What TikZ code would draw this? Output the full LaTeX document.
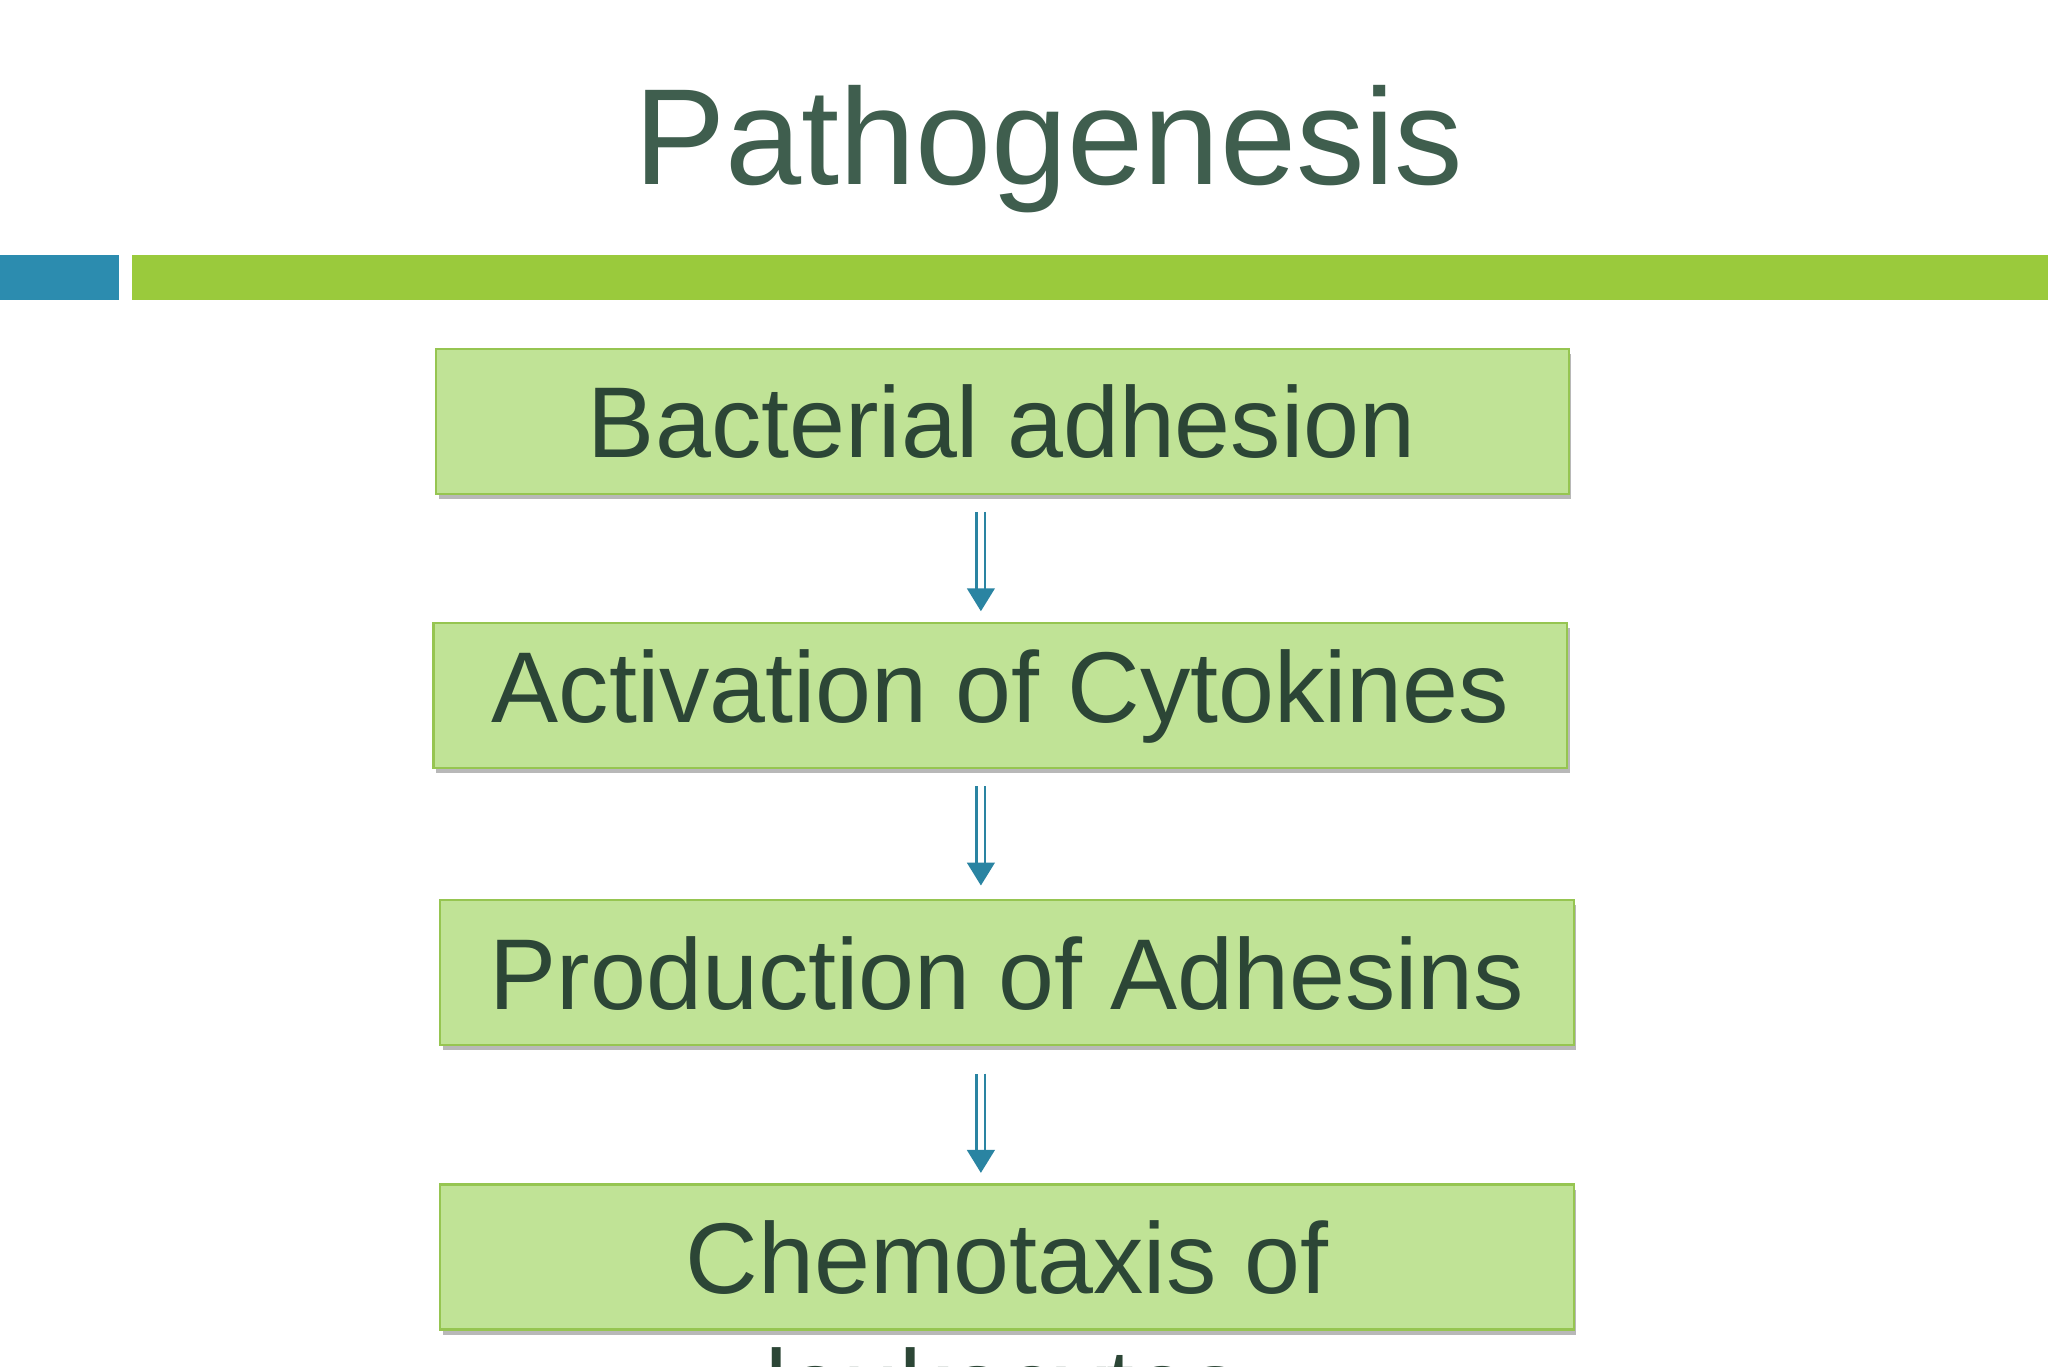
\documentclass[tikz,border=0pt]{standalone}
\usepackage{fontspec}
\setmainfont{Liberation Sans}
\usetikzlibrary{arrows.meta}
\definecolor{titlec}{HTML}{3F5E4E}
\definecolor{txtc}{HTML}{2C4636}
\definecolor{boxf}{HTML}{C0E396}
\definecolor{boxd}{HTML}{96C551}
\definecolor{barg}{HTML}{9ACA3C}
\definecolor{bart}{HTML}{2C8CAF}
\definecolor{arr}{HTML}{2A84A2}
\begin{document}
\begin{tikzpicture}[x=0.01cm,y=-0.01cm,
  stepbox/.style={draw=boxd,fill=boxf,line width=0.5pt},
  shadowbox/.style={fill=black!28},
  boxtxt/.style={text=txtc,font=\fontsize{21.9}{26}\selectfont},
  flow/.style={draw=arr,double=white,line width=0.6pt,double distance=1.2pt,-{Triangle[length=5pt,width=6pt,fill=arr]}}]
\useasboundingbox (0,0) rectangle (1568,1046);
\clip (0,0) rectangle (1568,1046);
\fill[white] (0,0) rectangle (1568,1046);
\node[text=titlec,font=\fontsize{29.8}{34}\selectfont] (title) at (803,114) {Pathogenesis};
\fill[bart] (0,195) rectangle (91,230);
\fill[barg] (101,195) rectangle (1568,230);
\fill[shadowbox] (336,271) rectangle (1203,382);
\fill[shadowbox] (334,481) rectangle (1202,592);
\fill[shadowbox] (339,693) rectangle (1207,804);
\fill[shadowbox] (339,911) rectangle (1207,1022);
\draw[stepbox] (334,267) rectangle (1201,378);
\draw[stepbox] (332,477) rectangle (1200,588);
\draw[stepbox] (337,689) rectangle (1205,800);
\draw[stepbox] (337,907) rectangle (1205,1018);
\node[boxtxt] (t1) at (767,323) {Bacterial adhesion};
\node[boxtxt] (t2) at (766,533) {Activation of Cytokines};
\node[boxtxt] (t3) at (771,745) {Production of Adhesins};
\node[boxtxt] (t4) at (771,963) {Chemotaxis of};
\node[boxtxt] (t5) at (768,1068) {leukocytes};
\coordinate (a1s) at (751,392); \coordinate (a1e) at (751,468);
\coordinate (a2s) at (751,602); \coordinate (a2e) at (751,678);
\coordinate (a3s) at (751,822); \coordinate (a3e) at (751,898);
\draw[flow] (a1s) -- (a1e);
\draw[flow] (a2s) -- (a2e);
\draw[flow] (a3s) -- (a3e);
\end{tikzpicture}
\end{document}
